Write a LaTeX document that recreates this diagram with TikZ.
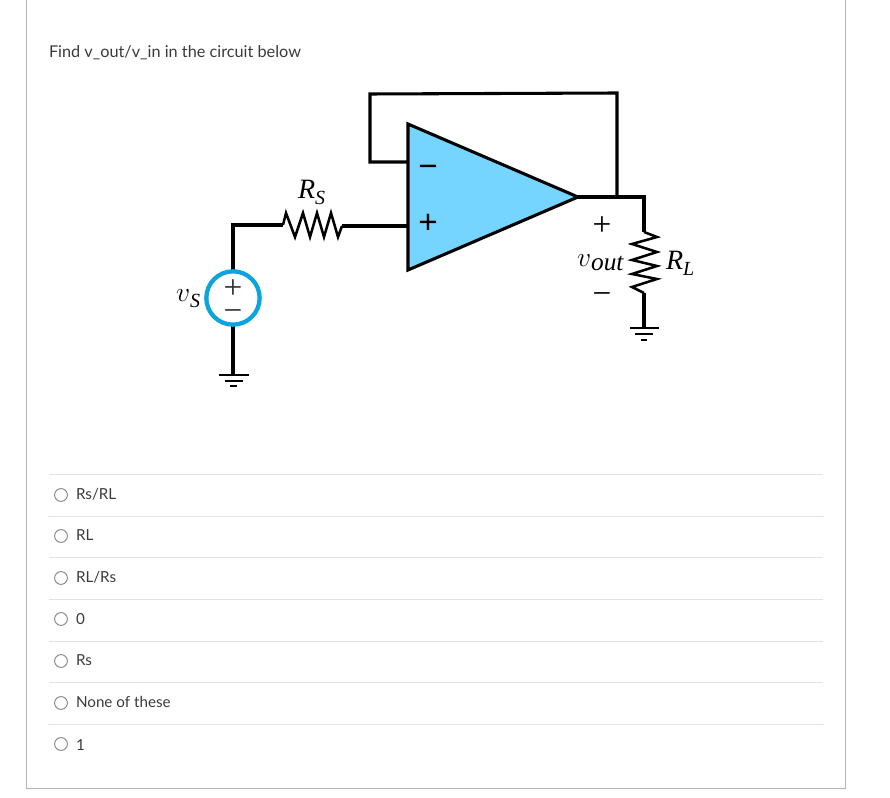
\documentclass[tikz,border=0pt]{standalone}
\usepackage{fontspec}
\setmainfont{Lato}
\newfontfamily\thinsign{Liberation Serif}
\newfontfamily\signfont{Liberation Sans}
\newfontfamily\symfont{Liberation Serif}[ItalicFont=* Italic]
\definecolor{opfill}{HTML}{75D5FF}
\definecolor{ringblue}{HTML}{0BA4DC}
\definecolor{framegray}{HTML}{B4B4B4}
\definecolor{rulegray}{HTML}{E2E2E2}
\definecolor{radiogray}{HTML}{858585}
\definecolor{uitext}{HTML}{3A3A3A}
\tikzset{
  x=0.75pt,y=-0.75pt,
  wire/.style={line width=2.3pt,black,line join=miter,line cap=butt},
  gbar/.style={line width=1.8pt,black,line cap=butt},
  zig/.style={line width=1.9pt,black,line join=miter},
  ui/.style={anchor=base west,inner sep=0pt,outer sep=0pt,text=uitext,font=\fontsize{11.4pt}{13pt}\selectfont},
  uiq/.style={ui,font=\fontsize{12.2pt}{14pt}\selectfont},
  radio/.style={circle,draw=radiogray,line width=0.7pt,minimum size=9.6pt,inner sep=0pt,outer sep=0pt},
  sym/.style={anchor=base west,inner sep=0pt,outer sep=0pt,font=\symfont\itshape\fontsize{21pt}{24pt}\selectfont},
  sign/.style={anchor=base,inner sep=0pt,outer sep=0pt,font=\thinsign\fontsize{25pt}{27pt}\selectfont},
  opsign/.style={anchor=base,inner sep=0pt,outer sep=0pt,font=\signfont\fontsize{25pt}{27pt}\selectfont},
}
\newcommand{\subcap}[1]{\raisebox{-0.2em}{\fontsize{15pt}{16pt}\selectfont\itshape #1}}
\newcommand{\sublow}[1]{\raisebox{-0.14em}{\fontsize{19pt}{20pt}\selectfont\itshape #1}}
\newcommand{\curlyv}{{\fontsize{20.74pt}{24pt}\selectfont$v$}}
\begin{document}
\begin{tikzpicture}
\useasboundingbox (0,0) rectangle (890,798);
% frame
\draw[framegray,line width=0.7pt] (26,0) -- (26,788) -- (845,788) -- (845,0);
% question
\node[uiq] (q) at (49,58) {Find v\_out/v\_in in the circuit below};
% junctions and wire ends
\coordinate (ninv) at (408,162);
\coordinate (pinv) at (408,226);
\coordinate (fbl) at (370,162);
\coordinate (fbtl) at (370,94);
\coordinate (fbtr) at (617,93);
\coordinate (fbj) at (617,197);
\coordinate (opout) at (578,197);
\coordinate (rlc) at (644,197);
\coordinate (rlt) at (644,232);
\coordinate (rlb) at (644,293);
\coordinate (gr) at (644,328);
\coordinate (rsl) at (283,225);
\coordinate (rsr) at (342,226);
\coordinate (srcc) at (233,225);
\coordinate (src) at (233,298);
\coordinate (gs) at (233,375);
% op amp
\draw[wire,fill=opfill] (408,124) -- (578,197) -- (408,270) -- cycle;
\draw[wire] (ninv) -- (fbl) -- (fbtl) -- (fbtr) -- (fbj);
\draw[wire] (opout) -- (rlc) -- (rlt);
\draw[wire] (rsr) -- (pinv);
\draw[wire] (rsl) -- (srcc) -- (233,271);
\draw[wire] (233,325) -- (gs);
\draw[wire] (rlb) -- (gr);
% resistors
\draw[zig] (rsl) -- (286,213) -- (295,237) -- (303,213) -- (310,237) -- (317,213) -- (324,237) -- (331,213) -- (338,237) -- (rsr);
\draw[zig] (rlt) -- (657,237) -- (632,244) -- (657,252) -- (632,260) -- (657,266) -- (632,274) -- (657,279) -- (632,287) -- (rlb);
% source
\node[circle,draw=ringblue,line width=3.2pt,minimum size=40pt,inner sep=0pt,fill=white] (vs) at (src) {};
\node[sign,text=black!80] (sp) at (233,299) {+};
\node[sign,text=black!80] (sm) at (233,322) {−};
% grounds
\draw[gbar] (219,375) -- (249,375);
\draw[gbar] (225,381) -- (243,381);
\draw[gbar] (230,386) -- (237,386);
\draw[gbar] (630,328) -- (659,328);
\draw[gbar] (635,334) -- (653,334);
\draw[gbar] (641,340) -- (647,340);
% signs
\node[opsign] (om) at (428,178) {−};
\node[opsign] (op) at (428,234) {+};
\node[sign] (vp) at (602,236) {+};
\node[sign] (vm) at (602,305) {−};
% labels
\node[sym] (lrs) at (298,199) {R\subcap{S}};
\node[sym] (lvs) at (176,302) {\curlyv\subcap{S}};
\node[sym] (lvo) at (577,267) {\curlyv\sublow{out}};
\node[sym] (lrl) at (666,270) {R\subcap{L}};
% options
\foreach \ya in {474,516,557,599,641,682,724}{\draw[rulegray,line width=0.6pt] (49,\ya) -- (823,\ya);}
\node[radio] (r1) at (61,495) {}; \node[ui] (o1) at (76,500) {Rs/RL};
\node[radio] (r2) at (61,536) {}; \node[ui] (o2) at (76,541) {RL};
\node[radio] (r3) at (61,578) {}; \node[ui] (o3) at (76,583) {RL/Rs};
\node[radio] (r4) at (61,619) {}; \node[ui] (o4) at (76,625) {0};
\node[radio] (r5) at (61,661) {}; \node[ui] (o5) at (76,666) {Rs};
\node[radio] (r6) at (61,703) {}; \node[ui] (o6) at (76,708) {None of these};
\node[radio] (r7) at (61,744) {}; \node[ui] (o7) at (76,750) {1};
\end{tikzpicture}
\end{document}
